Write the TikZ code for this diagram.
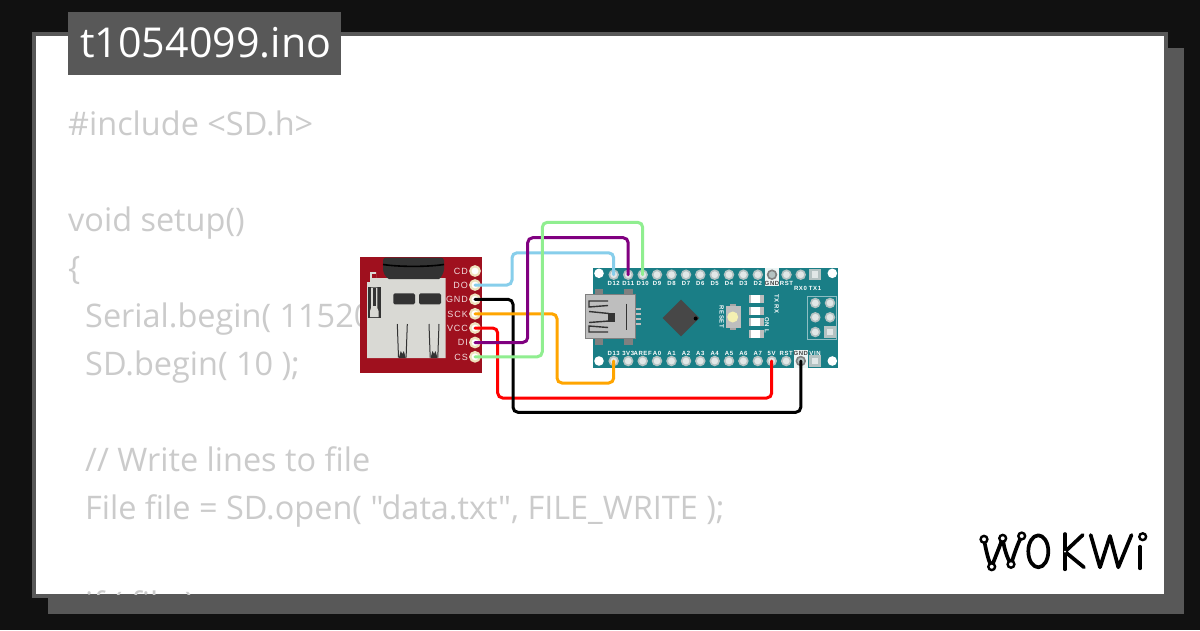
\documentclass[tikz,border=0pt]{standalone}
\usepackage{fontspec}
\newfontfamily\codefont{Open Sans}
\newfontfamily\pinfont[LetterSpace=10]{Liberation Sans}
\newfontfamily\nanofont[LetterSpace=10]{Liberation Sans}
\usetikzlibrary{positioning,shapes}
\definecolor{pagebg}{HTML}{111111}
\definecolor{framegray}{HTML}{585858}
\definecolor{codegray}{HTML}{CBCBCB}
\definecolor{sdred}{HTML}{9F101E}
\definecolor{sdgold}{HTML}{EFE3BE}
\definecolor{holdergray}{HTML}{D9D9D4}
\definecolor{darkpart}{HTML}{333333}
\definecolor{nanoteal}{HTML}{1A7E86}
\definecolor{pingray}{HTML}{B4C2C2}
\definecolor{usbgray}{HTML}{BEBEBE}
\definecolor{wireblue}{HTML}{87CEEB}
\definecolor{wiregreen}{HTML}{90EE90}
\definecolor{wirepurple}{HTML}{800080}
\definecolor{wireorange}{HTML}{FFA500}
\tikzset{
  codeline/.style={anchor=base west, inner sep=0pt, text=codegray, font=\codefont\fontsize{32.45}{32}\selectfont},
  sdpin/.style={circle, draw=sdgold, line width=2.2pt, fill=white, minimum size=9.5pt, inner sep=0pt},
  sdlabel/.style={anchor=base east, inner sep=0pt, text=white!85!sdred, font=\pinfont\fontsize{9}{9}\selectfont},
  nanopin/.style={circle, draw=pingray, line width=1.6pt, fill=white!60!pingray, minimum size=8.8pt, inner sep=0pt},
  nanosq/.style={rectangle, draw=pingray, line width=2.4pt, fill=white!60!pingray, minimum size=9pt, inner sep=0pt},
  nanolabel/.style={inner sep=0pt, text=white, font=\nanofont\bfseries\fontsize{6}{6}\selectfont},
  nanohole/.style={circle, fill=white, minimum size=9.6pt, inner sep=0pt},
  wire/.style={line width=3pt, rounded corners=5pt, line cap=round},
  logo/.style={black, line width=3.7pt, line cap=round, line join=round},
  logodot/.style={circle, draw=black, line width=2.4pt, fill=white, minimum size=6.8pt, inner sep=0pt},
}
\begin{document}
\begin{tikzpicture}[x=1pt, y=-1pt]
      \fill [pagebg] (0, 0) rectangle (1200, 630);
      \useasboundingbox (0, 0) rectangle (1200, 630);
      % card and its shadow
      \fill [framegray] (48, 48) rectangle (1184, 614);
      \fill [framegray] (32, 32) rectangle (1168, 598);
      \fill [white] (36, 36) rectangle (1164, 594);
      \begin{scope}
        \clip (36, 36) rectangle (1164, 594);
        \node (inc) [codeline] at (68, 135) {\#include <SD.h>};
        \node (setup) [codeline] at (68, 231) {void setup()};
        \node (open) [codeline] at (68, 279) {\{};
        \node (serial) [codeline] at (85, 327) {Serial.begin( 115200 );};
        \node (sdbegin) [codeline] at (85, 375) {SD.begin( 10 );};
        \node (comment) [codeline] at (85, 471) {// Write lines to file};
        \node (fileopen) [codeline] at (85, 519) {File file = SD.open( "data.txt", FILE\_WRITE );};
        \node (iffile) [codeline] at (85, 615) {if ( file )};
      \end{scope}
      \fill [framegray] (68, 12) rectangle (341, 75);
      \node (title) [anchor=base west, inner sep=0pt, text=white, font=\codefont\fontsize{41.2}{41}\selectfont] at (80, 57.5) {t1054099.ino};

      % sd card module
      \fill [sdred] (360, 257.3) rectangle (482.3, 372.7);
      \fill [holdergray] (367, 358) -- (367, 282) -- (370, 282) -- (370, 272) -- (376, 272) -- (376, 278)
                         -- (445.7, 278) -- (445.7, 358) -- cycle;
      \fill [sdred] (372, 274) rectangle (376, 278);
      \fill [darkpart, rounded corners=3pt] (383, 272) -- (383, 257.5) -- (444, 257.5) -- (444, 272)
                         .. controls (441, 277) and (440, 279) .. (436, 279) -- (392, 279)
                         .. controls (388, 279) and (386, 277) .. cycle;
      \draw [black, line width=1.6pt] (383, 264.5) .. controls (400, 267) and (427, 267) .. (444, 264.5);
      \fill [darkpart, rounded corners=1.5pt] (393.3, 293.3) rectangle (415, 304.3);
      \fill [darkpart, rounded corners=1.5pt] (419, 293.3) rectangle (441, 304.3);
      \fill [darkpart] (367.5, 286.7) rectangle (381, 318.3);
      \fill [holdergray] (371, 287.5) -- (377.3, 287.5) -- (377.3, 308) -- (378.5, 311) -- (378.5, 317) -- (370, 317)
                         -- (370, 311) -- (371, 308) -- cycle;
      \fill [darkpart] (372.5, 287.5) rectangle (375.5, 306);
      \foreach \legx in {397.3, 429} {
        \draw [darkpart, line width=1pt] (\legx, 324) -- (\legx + 1.2, 357.5);
        \draw [darkpart, line width=1pt] (\legx + 10, 324) -- (\legx + 8.8, 357.5);
        \fill [darkpart] (\legx + 1.5, 358) -- (\legx + 3.5, 351) -- (\legx + 5, 354) -- (\legx + 6.5, 351) -- (\legx + 8.5, 358) -- cycle;
      }
      \foreach \sdname/\sdy in {CD/271, DO/285, GND/299.3, SCK/313.8, VCC/328, DI/342.5, CS/356.8} {
        \node (sd\sdname) [sdpin] at (475, \sdy) {};
        \node (txt\sdname) [sdlabel] at (468, \sdy + 3.2) {\sdname};
      }

      % arduino nano
      \fill [nanoteal] (593, 268.3) rectangle (838.3, 367.7);
      \foreach \holex/\holey [count=\holen] in {599/273.3, 832.3/273.3, 599/361, 832.3/361} {
        \node (hole\holen) [nanohole] at (\holex, \holey) {};
      }
      \fill [white!92!nanoteal] (765, 268.3) rectangle (779, 286);
      \fill [white!92!nanoteal] (793.7, 350) rectangle (808, 367.7);
      \foreach \pinname/\pinx in {D12/613.7, D11/628.2, D10/642.7, D9/657, D8/671.5, D7/686, D6/700.3, D5/714.7, D4/729, D3/743.4, D2/757.8, RST/786.5} {
        \node (top\pinname) [nanopin] at (\pinx, 274.7) {};
        \node (toptxt\pinname) [nanolabel] at (\pinx, 283) {\pinname};
      }
      \foreach \pinname/\pinx in {D13/613.7, 3V3/628.2, AREF/642.7, A0/657, A1/671.5, A2/686, A3/700.3, A4/714.7, A5/729, A6/743.4, A7/757.8, 5V/771.7, RST/786.2} {
        \node (bot\pinname) [nanopin] at (\pinx, 361) {};
        \node (bottxt\pinname) [nanolabel] at (\pinx, 353) {\pinname};
      }
      \node (topGND) [nanopin, draw=gray, fill=pingray] at (772, 274.7) {};
      \node (toptxtGND) [nanolabel, text=darkgray] at (772, 283) {GND};
      \node (botGND) [nanopin, draw=gray, fill=pingray] at (800.8, 361) {};
      \node (bottxtGND) [nanolabel, text=darkgray] at (800.8, 353) {GND};
      \node (topRX) [nanopin] at (800.7, 274.7) {};
      \node (topTX) [nanosq] at (815, 274.7) {};
      \node (txtRX) [nanolabel] at (800.5, 288) {RX0};
      \node (txtTX) [nanolabel] at (815, 288) {TX1};
      \node (botVIN) [nanosq] at (815, 361) {};
      \node (txtVIN) [nanolabel] at (815, 353) {VIN};

      % usb connector
      \fill [gray] (595, 289.3) rectangle (603.3, 344.7);
      \fill [gray] (624, 289.3) rectangle (633.3, 344.7);
      \foreach \fingery in {308.7, 313.7, 318.7, 323.7} {
        \fill [usbgray] (635, \fingery - 1.2) rectangle (640.7, \fingery + 1.2);
      }
      \draw [gray, fill=usbgray, line width=.8pt] (585, 294.7) rectangle (635, 338.7);
      \draw [darkpart, line width=1.4pt] (626.7, 303.7) -- (626.7, 330.3);
      \draw [darkpart, line width=1.4pt] (608, 301) -- (589, 301) -- (589, 307) -- (608, 305.5);
      \draw [darkpart, line width=1.4pt] (608, 332) -- (589, 332) -- (589, 326) -- (608, 327.5);
      \draw [darkpart, line width=1.4pt] (589, 311.5) -- (609, 313.5);
      \draw [darkpart, line width=1.4pt] (589, 322.5) -- (609, 321);
      \fill [darkpart] (608, 312.7) rectangle (615, 322);

      % chip, reset and leds
      \node (chip) [diamond, fill=darkpart!90!white, minimum size=37pt, inner sep=0pt] at (681, 318) {};
      \fill [black] (695.7, 318.5) circle (2);
      \fill [gray!70!white] (730, 304) rectangle (736, 329.5);
      \fill [usbgray] (725.7, 306) rectangle (740.7, 327.7);
      \node (reset) [circle, fill=white!70!yellow!90!gray, minimum size=11pt, inner sep=0pt] at (732.7, 317) {};
      \node (txtReset) [nanolabel, rotate=-90] at (721.7, 316.7) {RESET};
      \foreach \ledy [count=\ledn] in {299, 311, 322, 334} {
        \fill [usbgray] (749.3, \ledy - 4) rectangle (764, \ledy + 4);
        \node (led\ledn) [rectangle, fill=white, minimum width=9pt, minimum height=8pt, inner sep=0pt] at (755.5, \ledy) {};
      }
      \node (txtTXRX) [nanolabel, rotate=-90] at (776.7, 304) {TX RX};
      \node (txtONL) [nanolabel, rotate=-90] at (767, 325) {ON L};

      % icsp header
      \draw [white!50!nanoteal, line width=.8pt] (807.3, 296) rectangle (836.7, 339.3);
      \foreach \icspx/\icspy [count=\icspn] in {815.3/303, 830/303, 815.3/317.3, 830/317.3, 815.3/332} {
        \node (icsp\icspn) [nanopin] at (\icspx, \icspy) {};
      }
      \node (icsp6) [nanosq] at (830, 332) {};

      % wires
      \draw [wire, red] (sdVCC.center) -- ++(22.7, 0) -- ++(0, 70) -| (bot5V.center);
      \draw [wire, black] (sdGND.center) -- ++(38, 0) -- ++(0, 113) -| (botGND.center);
      \draw [wire, wireorange] (sdSCK.center) -- ++(82, 0) -- ++(0, 69.2) -| (botD13.center);
      \draw [wire, wireblue] (sdDO.center) -- ++(37, 0) -- ++(0, -32.2) -| (topD12.center);
      \draw [wire, wirepurple] (sdDI.center) -- ++(52.7, 0) -- ++(0, -104.8) -| (topD11.center);
      \draw [wire, wiregreen] (sdCS.center) -- ++(67.3, 0) -- ++(0, -134.5) -| (topD10.center);

      % logo
      \draw [logo] (984, 539.3) .. controls (986, 550) and (988, 560) .. (991.7, 566.7)
                   .. controls (995, 558) and (999, 548) .. (1002.7, 538.3)
                   .. controls (1004, 548) and (1007, 558) .. (1011, 564.3)
                   .. controls (1014, 555) and (1017, 545) .. (1021.7, 536);
      \node (dotA) [logodot] at (984, 539.3) {};
      \node (dotB) [logodot] at (1002.7, 538.3) {};
      \node (dotC) [logodot] at (1021.7, 536) {};
      \node (dotD) [logodot] at (991.7, 566.7) {};
      \node (dotE) [logodot] at (1011, 564.3) {};
      \draw [logo] (1038.3, 551.3) ellipse (10 and 16);
      \draw [logo] (1065, 534) -- (1065, 569.3);
      \draw [logo] (1082.7, 535) -- (1065, 551.7) -- (1084, 567.3);
      \fill [white] (1065, 551.7) circle (1);
      \draw [logo] (1090.7, 535) -- (1100, 567.3) -- (1110, 536) -- (1118.3, 567.3) -- (1131.5, 535);
      \draw [logo] (1140, 546.7) -- (1140, 568.3);
      \node (dotI) [logodot] at (1142.7, 536.7) {};
\end{tikzpicture}
\end{document}
